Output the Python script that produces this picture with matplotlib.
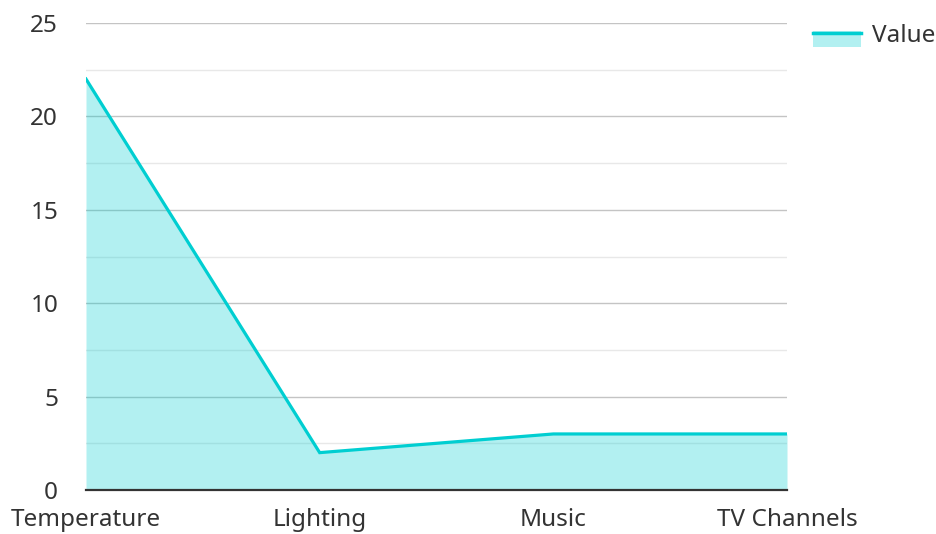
import matplotlib
matplotlib.use("Agg")
import matplotlib.pyplot as plt
from matplotlib.legend_handler import HandlerBase
from matplotlib.patches import Rectangle
from matplotlib.lines import Line2D
from matplotlib.ticker import MultipleLocator

plt.rcParams['font.family'] = ['Noto Sans', 'DejaVu Sans']

categories = ['Temperature', 'Lighting', 'Music', 'TV Channels']
values = [22, 2, 3, 3]
series_name = 'Value'

line_color = '#00CED1'
fill_color = '#B2F0F1'
text_color = '#333333'


class AreaHandler(HandlerBase):
    """Legend key: filled box with the line along its top edge"""

    def create_artists(self, legend, orig_handle, xdescent, ydescent,
                       width, height, fontsize, trans):
        line_y = -ydescent + height * 0.55
        box = Rectangle((-xdescent, line_y - height * 0.85), width, height * 0.95,
                        facecolor=fill_color, edgecolor='none', transform=trans)
        ln = Line2D([-xdescent, -xdescent + width], [line_y, line_y],
                    color=line_color, linewidth=2.5, transform=trans)
        return [box, ln]


fig = plt.figure(figsize=(9.36, 5.34), dpi=100)
ax = fig.add_axes([86 / 936, 1 - 490 / 534, (787 - 86) / 936, (490 - 23) / 534])

x = list(range(len(categories)))
ax.fill_between(x, values, 0, color=line_color, alpha=0.3, linewidth=0, zorder=2)
line, = ax.plot(x, values, color=line_color, linewidth=2.3, zorder=3,
                solid_joinstyle='miter')

ax.set_xlim(0, len(categories) - 1)
ax.set_ylim(0, 25)
ax.yaxis.set_major_locator(MultipleLocator(5))
ax.yaxis.set_minor_locator(MultipleLocator(2.5))
ax.grid(axis='y', which='major', color='#c4c4c4', linewidth=1.0, zorder=1)
ax.grid(axis='y', which='minor', color='#e8e8e8', linewidth=1.0, zorder=1)

ax.set_xticks(x)
ax.set_xticklabels(categories)
ax.tick_params(axis='both', which='both', length=0, labelsize=17.5,
               labelcolor=text_color)
ax.tick_params(axis='y', pad=20)
ax.tick_params(axis='x', pad=13)

for side in ['top', 'right', 'left']:
    ax.spines[side].set_visible(False)
ax.spines['bottom'].set_color(text_color)
ax.spines['bottom'].set_linewidth(1.6)
ax.spines['bottom'].set_zorder(4)

fig.legend([line], [series_name], handler_map={line: AreaHandler()},
           loc='center right', bbox_to_anchor=(935 / 936, 1 - 36 / 534),
           frameon=False, fontsize=17.5, handlelength=2.0, handletextpad=0.42,
           borderaxespad=0, borderpad=0, labelcolor=text_color)

fig.savefig('out.png', dpi=100)
